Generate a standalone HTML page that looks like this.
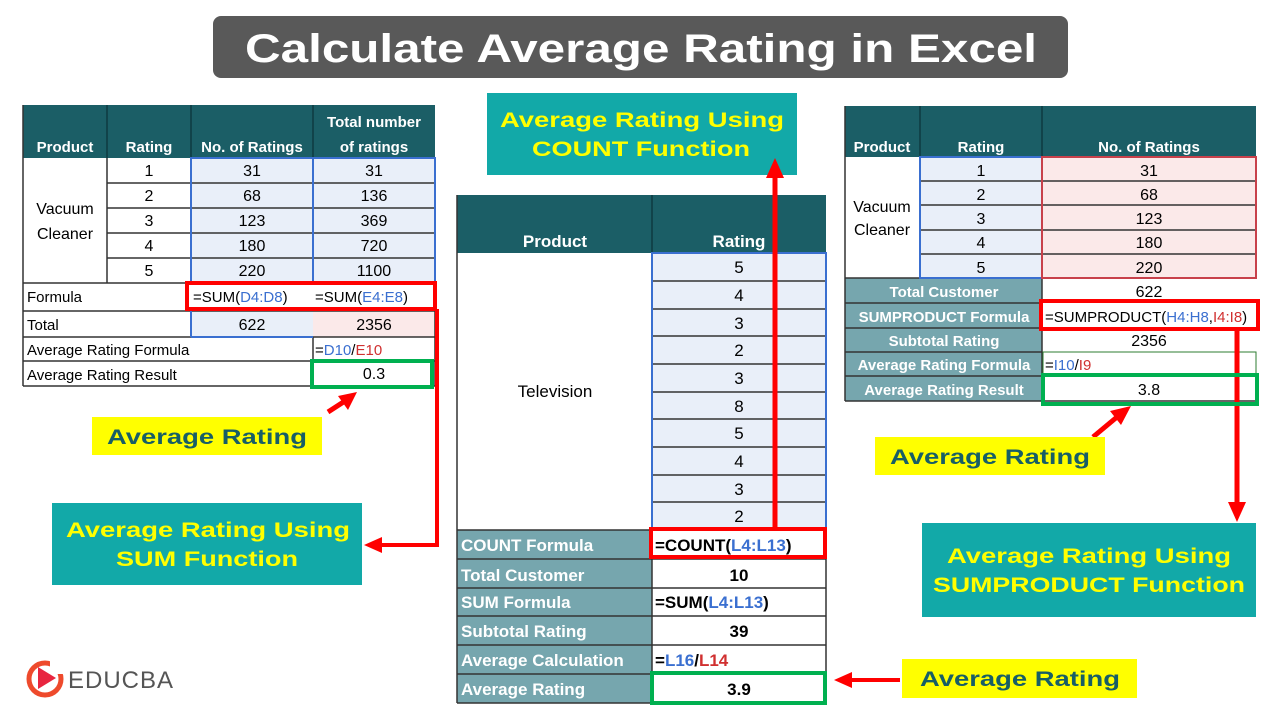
<!DOCTYPE html>
<html><head><meta charset="utf-8"><style>
html,body{margin:0;padding:0;background:#fff;width:1280px;height:720px;overflow:hidden}
svg{display:block;font-family:"Liberation Sans",sans-serif}
</style></head><body>
<svg width="1280" height="720" viewBox="0 0 1280 720" xmlns="http://www.w3.org/2000/svg">
<rect width="1280" height="720" fill="#fff"/>
<!-- title -->
<rect x="213" y="16" width="855" height="62" rx="8" fill="#595959"/>
<text x="245" y="62" fill="#fff" font-size="40" font-weight="bold" textLength="792" lengthAdjust="spacingAndGlyphs">Calculate Average Rating in Excel</text>

<!-- LEFT TABLE -->
<g font-size="15" fill="#000">
<rect x="23" y="105" width="412" height="53" fill="#1b5e66"/>
<g stroke="#0e3a40" stroke-width="1.5"><line x1="107" y1="105" x2="107" y2="158"/><line x1="191" y1="105" x2="191" y2="158"/><line x1="313" y1="105" x2="313" y2="158"/></g>
<g fill="#fff" font-weight="bold" text-anchor="middle"><text x="65" y="152">Product</text><text x="149" y="152">Rating</text><text x="252" y="152">No. of Ratings</text><text x="374" y="127">Total number</text><text x="374" y="152">of ratings</text></g>
<rect x="191" y="158" width="244" height="125" fill="#e9eff9"/>
<rect x="191" y="311" width="122" height="26" fill="#e9eff9"/>
<rect x="313" y="311" width="122" height="26" fill="#fbe9e9"/>
<g stroke="#333" stroke-width="1.5">
<line x1="107" y1="183" x2="435" y2="183"/><line x1="107" y1="208" x2="435" y2="208"/><line x1="107" y1="233" x2="435" y2="233"/><line x1="107" y1="258" x2="435" y2="258"/>
<line x1="23" y1="283" x2="435" y2="283"/><line x1="23" y1="311" x2="435" y2="311"/><line x1="23" y1="337" x2="435" y2="337"/><line x1="23" y1="361" x2="435" y2="361"/><line x1="23" y1="386" x2="435" y2="386"/>
<line x1="23" y1="105" x2="23" y2="386"/><line x1="107" y1="158" x2="107" y2="283"/><line x1="313" y1="337" x2="313" y2="386"/><line x1="435" y1="283" x2="435" y2="386"/>
</g>
<g stroke="#3a6fd0" stroke-width="2" fill="none"><rect x="191" y="158" width="122" height="125"/><rect x="313" y="158" width="122" height="125"/><line x1="191" y1="311" x2="191" y2="337"/><line x1="191" y1="337" x2="313" y2="337"/></g>
<g text-anchor="middle" font-size="16">
<text x="149" y="176">1</text><text x="149" y="201">2</text><text x="149" y="226">3</text><text x="149" y="251">4</text><text x="149" y="276">5</text>
<text x="252" y="176">31</text><text x="252" y="201">68</text><text x="252" y="226">123</text><text x="252" y="251">180</text><text x="252" y="276">220</text>
<text x="374" y="176">31</text><text x="374" y="201">136</text><text x="374" y="226">369</text><text x="374" y="251">720</text><text x="374" y="276">1100</text>
<text x="65" y="214">Vacuum</text><text x="65" y="239">Cleaner</text>
<text x="252" y="330">622</text><text x="374" y="330">2356</text><text x="374" y="379">0.3</text>
</g>
<text x="27" y="302" font-size="15">Formula</text>
<text x="27" y="330" font-size="15">Total</text>
<text x="27" y="355" font-size="15">Average Rating Formula</text>
<text x="27" y="380" font-size="15">Average Rating Result</text>
<text x="193" y="302" font-size="15">=SUM(<tspan fill="#3a6fd0">D4:D8</tspan>)</text>
<text x="315" y="302" font-size="15">=SUM(<tspan fill="#3a6fd0">E4:E8</tspan>)</text>
<text x="315" y="355" font-size="15"><tspan fill="#000">=</tspan><tspan fill="#3a6fd0">D10</tspan>/<tspan fill="#d03030">E10</tspan></text>
</g>
<rect x="187" y="283" width="248" height="26" fill="none" stroke="#ff0000" stroke-width="4"/>
<rect x="312" y="361" width="120" height="26" fill="none" stroke="#00b050" stroke-width="4"/>
<polyline points="435,311 437,311 437,545 380,545" fill="none" stroke="#ff0000" stroke-width="4"/>
<polygon points="364,545 382,537 382,553" fill="#ff0000"/>
<line x1="328" y1="412" x2="345" y2="401" stroke="#ff0000" stroke-width="5"/>
<polygon points="357,392 338,396 348,410" fill="#ff0000"/>
<rect x="92" y="417" width="230" height="38" fill="#ffff00"/>
<text x="107" y="444" font-size="21" font-weight="bold" fill="#175e66" textLength="200" lengthAdjust="spacingAndGlyphs">Average Rating</text>
<rect x="52" y="503" width="310" height="82" fill="#12a9a8"/>
<text x="66" y="537" font-size="21" font-weight="bold" fill="#ffff00" textLength="284" lengthAdjust="spacingAndGlyphs">Average Rating Using</text>
<text x="116" y="566" font-size="21" font-weight="bold" fill="#ffff00" textLength="182" lengthAdjust="spacingAndGlyphs">SUM Function</text>

<!-- MIDDLE -->
<rect x="487" y="93" width="310" height="82" fill="#12a9a8"/>
<text x="500" y="127" font-size="21" font-weight="bold" fill="#ffff00" textLength="284" lengthAdjust="spacingAndGlyphs">Average Rating Using</text>
<text x="532" y="156" font-size="21" font-weight="bold" fill="#ffff00" textLength="218" lengthAdjust="spacingAndGlyphs">COUNT Function</text>
<g font-size="17">
<rect x="457" y="195" width="369" height="58" fill="#1b5e66"/>
<line x1="652" y1="195" x2="652" y2="253" stroke="#0e3a40" stroke-width="1.5"/>
<text x="555" y="247" text-anchor="middle" fill="#fff" font-weight="bold">Product</text>
<text x="739" y="247" text-anchor="middle" fill="#fff" font-weight="bold">Rating</text>
<rect x="652" y="253" width="174" height="277" fill="#e9eff9"/>
<rect x="457" y="530" width="195" height="173" fill="#76a6ae"/>
<g stroke="#333" stroke-width="1.5">
<line x1="652" y1="281" x2="826" y2="281"/><line x1="652" y1="309" x2="826" y2="309"/><line x1="652" y1="336" x2="826" y2="336"/><line x1="652" y1="364" x2="826" y2="364"/><line x1="652" y1="392" x2="826" y2="392"/><line x1="652" y1="419" x2="826" y2="419"/><line x1="652" y1="447" x2="826" y2="447"/><line x1="652" y1="475" x2="826" y2="475"/><line x1="652" y1="502" x2="826" y2="502"/>
<line x1="457" y1="530" x2="826" y2="530"/><line x1="457" y1="559" x2="826" y2="559"/><line x1="457" y1="588" x2="826" y2="588"/><line x1="457" y1="616" x2="826" y2="616"/><line x1="457" y1="645" x2="826" y2="645"/><line x1="457" y1="674" x2="826" y2="674"/><line x1="457" y1="703" x2="826" y2="703"/>
<line x1="457" y1="195" x2="457" y2="703"/><line x1="826" y1="530" x2="826" y2="703"/><line x1="652" y1="530" x2="652" y2="703"/>
</g>
<rect x="652" y="253" width="174" height="277" fill="none" stroke="#3a6fd0" stroke-width="2"/>
<g text-anchor="middle">
<text x="739" y="273">5</text><text x="739" y="301">4</text><text x="739" y="329">3</text><text x="739" y="356">2</text><text x="739" y="384">3</text><text x="739" y="412">8</text><text x="739" y="439">5</text><text x="739" y="467">4</text><text x="739" y="495">3</text><text x="739" y="522">2</text>
<text x="555" y="397">Television</text>
<text x="739" y="581" font-weight="bold">10</text><text x="739" y="637" font-weight="bold">39</text><text x="739" y="695" font-weight="bold">3.9</text>
</g>
<g fill="#fff" font-weight="bold" font-size="17">
<text x="461" y="551">COUNT Formula</text><text x="461" y="581">Total Customer</text><text x="461" y="608">SUM Formula</text><text x="461" y="637">Subtotal Rating</text><text x="461" y="666">Average Calculation</text><text x="461" y="695">Average Rating</text>
</g>
<g font-weight="bold" font-size="17">
<text x="655" y="551">=COUNT(<tspan fill="#3a6fd0">L4:L13</tspan>)</text>
<text x="655" y="608">=SUM(<tspan fill="#3a6fd0">L4:L13</tspan>)</text>
<text x="655" y="666">=<tspan fill="#3a6fd0">L16</tspan>/<tspan fill="#d03030">L14</tspan></text>
</g>
</g>
<rect x="651" y="529" width="174" height="28" fill="none" stroke="#ff0000" stroke-width="4"/>
<line x1="775" y1="527" x2="775" y2="176" stroke="#ff0000" stroke-width="5"/>
<polygon points="775,158 766,178 784,178" fill="#ff0000"/>
<rect x="652" y="673" width="173" height="30" fill="none" stroke="#00b050" stroke-width="4"/>
<line x1="900" y1="680" x2="850" y2="680" stroke="#ff0000" stroke-width="4"/>
<polygon points="834,680 852,672 852,688" fill="#ff0000"/>
<rect x="902" y="659" width="235" height="39" fill="#ffff00"/>
<text x="920" y="686" font-size="21" font-weight="bold" fill="#175e66" textLength="200" lengthAdjust="spacingAndGlyphs">Average Rating</text>

<!-- RIGHT TABLE -->
<g font-size="16">
<rect x="845" y="106" width="411" height="51" fill="#1b5e66"/>
<g stroke="#0e3a40" stroke-width="1.5"><line x1="920" y1="106" x2="920" y2="157"/><line x1="1042" y1="106" x2="1042" y2="157"/></g>
<g fill="#fff" font-weight="bold" text-anchor="middle" font-size="15"><text x="882" y="152">Product</text><text x="981" y="152">Rating</text><text x="1149" y="152">No. of Ratings</text></g>
<rect x="920" y="157" width="122" height="121" fill="#e9eff9"/>
<rect x="1042" y="157" width="214" height="121" fill="#fbe9e9"/>
<rect x="845" y="278" width="197" height="123" fill="#76a6ae"/>
<g stroke="#333" stroke-width="1.5">
<line x1="920" y1="181" x2="1256" y2="181"/><line x1="920" y1="205" x2="1256" y2="205"/><line x1="920" y1="230" x2="1256" y2="230"/><line x1="920" y1="254" x2="1256" y2="254"/>
<line x1="845" y1="278" x2="1256" y2="278"/><line x1="845" y1="303" x2="1042" y2="303"/><line x1="845" y1="328" x2="1042" y2="328"/><line x1="845" y1="352" x2="1042" y2="352"/><line x1="845" y1="376" x2="1042" y2="376"/><line x1="845" y1="401" x2="1256" y2="401"/>
<line x1="845" y1="106" x2="845" y2="401"/><line x1="1042" y1="278" x2="1042" y2="401"/>
</g>
<rect x="920" y="157" width="122" height="121" fill="none" stroke="#3a6fd0" stroke-width="2"/>
<rect x="1042" y="157" width="214" height="121" fill="none" stroke="#c8414b" stroke-width="2"/>
<g text-anchor="middle">
<text x="981" y="176">1</text><text x="981" y="200">2</text><text x="981" y="224">3</text><text x="981" y="248">4</text><text x="981" y="273">5</text>
<text x="1149" y="176">31</text><text x="1149" y="200">68</text><text x="1149" y="224">123</text><text x="1149" y="248">180</text><text x="1149" y="273">220</text>
<text x="882" y="212">Vacuum</text><text x="882" y="235">Cleaner</text>
<text x="1149" y="297">622</text><text x="1149" y="346">2356</text><text x="1149" y="395">3.8</text>
</g>
<g fill="#fff" font-weight="bold" text-anchor="middle" font-size="15">
<text x="944" y="297">Total Customer</text><text x="944" y="322">SUMPRODUCT Formula</text><text x="944" y="346">Subtotal Rating</text><text x="944" y="370">Average Rating Formula</text><text x="944" y="395">Average Rating Result</text>
</g>
<text x="1045" y="322" font-size="15">=SUMPRODUCT(<tspan fill="#3a6fd0">H4:H8</tspan>,<tspan fill="#d03030">I4:I8</tspan>)</text>
<text x="1045" y="370" font-size="15">=<tspan fill="#3a6fd0">I10</tspan>/<tspan fill="#d03030">I9</tspan></text>
<rect x="1043" y="352" width="213" height="24" fill="none" stroke="#2e7d32" stroke-width="1"/>
</g>
<rect x="1041" y="301" width="217" height="28" fill="none" stroke="#ff0000" stroke-width="4"/>
<line x1="1237" y1="330" x2="1237" y2="505" stroke="#ff0000" stroke-width="5"/>
<polygon points="1237,522 1228,502 1246,502" fill="#ff0000"/>
<rect x="1043" y="375" width="214" height="29" fill="none" stroke="#00b050" stroke-width="4"/>
<line x1="1093" y1="437" x2="1117" y2="417" stroke="#ff0000" stroke-width="5"/>
<polygon points="1131,406 1110,411 1121,425" fill="#ff0000"/>
<rect x="875" y="437" width="230" height="38" fill="#ffff00"/>
<text x="890" y="464" font-size="21" font-weight="bold" fill="#175e66" textLength="200" lengthAdjust="spacingAndGlyphs">Average Rating</text>
<rect x="922" y="523" width="334" height="94" fill="#12a9a8"/>
<text x="947" y="563" font-size="21" font-weight="bold" fill="#ffff00" textLength="284" lengthAdjust="spacingAndGlyphs">Average Rating Using</text>
<text x="933" y="592" font-size="21" font-weight="bold" fill="#ffff00" textLength="312" lengthAdjust="spacingAndGlyphs">SUMPRODUCT Function</text>

<!-- logo -->
<circle cx="45" cy="679" r="16" fill="none" stroke="#ee4a2c" stroke-width="5"/>
<rect x="50" y="660" width="14" height="14" fill="#fff"/>
<polygon points="38,667 56,678 38,689" fill="#e8253f"/>
<text x="68" y="688" font-size="24" fill="#555" letter-spacing="1">EDUCBA</text>
</svg>
</body></html>
